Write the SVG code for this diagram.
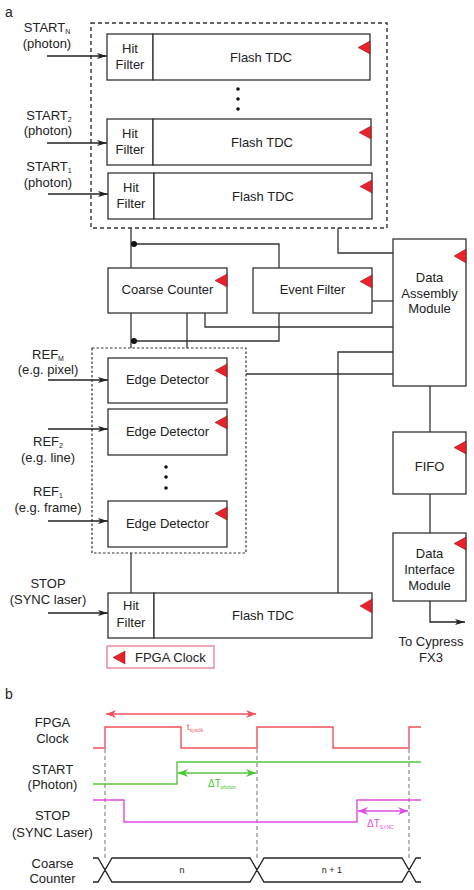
<svg xmlns="http://www.w3.org/2000/svg" width="474" height="890" viewBox="0 0 474 890">
<style>
text{font-family:"Liberation Sans",Arial,sans-serif;font-size:13px;fill:#222}
.m{text-anchor:middle}
.box{fill:#fff;stroke:#333;stroke-width:1.3}
.clk{fill:#e8222c;stroke:#8a1010;stroke-width:0.5}
.ln{fill:none;stroke:#333;stroke-width:1.3}
.ar{fill:none;stroke:#222;stroke-width:1.3;marker-end:url(#ah)}
.sub{font-size:7px}
.dash{stroke:#888;stroke-width:1.2;stroke-dasharray:4 3;fill:none}
.red{stroke:#f0505a;fill:none;stroke-width:1.4}
.grn{stroke:#55c83c;fill:none;stroke-width:1.4}
.mag{stroke:#e04ce0;fill:none;stroke-width:1.4}
.bus{stroke:#222;fill:none;stroke-width:1.3}
</style>
<defs>
<marker id="ah" markerWidth="10" markerHeight="6" refX="10" refY="3" orient="auto" markerUnits="userSpaceOnUse"><path d="M0,0 L10,3 L0,6 L2.5,3 z" fill="#222"/></marker>
<marker id="rh" markerWidth="10" markerHeight="8" refX="10" refY="4" orient="auto-start-reverse" markerUnits="userSpaceOnUse"><path d="M0,0 L10,4 L0,8 L3,4 z" fill="#f0505a"/></marker>
<marker id="gh" markerWidth="10" markerHeight="8" refX="10" refY="4" orient="auto-start-reverse" markerUnits="userSpaceOnUse"><path d="M0,0 L10,4 L0,8 L3,4 z" fill="#44c830"/></marker>
<marker id="mh" markerWidth="10" markerHeight="8" refX="10" refY="4" orient="auto-start-reverse" markerUnits="userSpaceOnUse"><path d="M0,0 L10,4 L0,8 L3,4 z" fill="#e04ce0"/></marker>
</defs>

<text x="5" y="17" style="font-size:14px">a</text>

<rect x="91" y="23" width="296" height="205" fill="none" stroke="#333" stroke-width="1.4" stroke-dasharray="4 3"/>
<rect x="92" y="348" width="154" height="205" fill="none" stroke="#333" stroke-width="1.2" stroke-dasharray="2.5 2"/>

<g id="connectors">
<path class="ln" d="M131,228 V268"/>
<path class="ln" d="M131,244 H279 V268"/>
<path class="ln" d="M131,313 V348"/>
<path class="ln" d="M187,313 V348"/>
<path class="ln" d="M205,313 V327 H393"/>
<path class="ln" d="M279,313 V341 H131"/>
<path class="ln" d="M338,228 V253 H393"/>
<path class="ln" d="M372,301 H393"/>
<path class="ln" d="M338,593 V352 H393"/>
<path class="ln" d="M246,374 H393"/>
<path class="ln" d="M131,553 V593"/>
<path class="ln" d="M430,386 V432"/>
<path class="ln" d="M430,494 V533"/>
<path class="ar" d="M430,601 V622 H465"/>
<path class="ar" d="M47,56 H107"/>
<path class="ar" d="M47,143 H107"/>
<path class="ar" d="M48,194 H108"/>
<path class="ar" d="M48,380 H108"/>
<path class="ar" d="M48,429 H108"/>
<path class="ar" d="M48,521 H108"/>
<path class="ar" d="M48,613 H108"/>
<circle cx="134" cy="244" r="3" fill="#111"/>
<circle cx="134" cy="341" r="3" fill="#111"/>
</g>

<text class="m" x="47" y="32">START<tspan class="sub" dy="1.5">N</tspan></text>
<text class="m" x="47" y="48">(photon)</text>
<text class="m" x="49" y="120">START<tspan class="sub" dy="1.5">2</tspan></text>
<text class="m" x="48" y="135">(photon)</text>
<text class="m" x="49" y="171">START<tspan class="sub" dy="1.5">1</tspan></text>
<text class="m" x="48" y="187">(photon)</text>
<text class="m" x="48" y="359">REF<tspan class="sub" dy="1.5">M</tspan></text>
<text class="m" x="48" y="374">(e.g. pixel)</text>
<text class="m" x="48" y="446">REF<tspan class="sub" dy="1.5">2</tspan></text>
<text class="m" x="48" y="462">(e.g. line)</text>
<text class="m" x="48" y="496">REF<tspan class="sub" dy="1.5">1</tspan></text>
<text class="m" x="48" y="512">(e.g. frame)</text>
<text class="m" x="48" y="588">STOP</text>
<text class="m" x="48" y="604">(SYNC laser)</text>

<g id="tdcN">
<rect class="box" x="107" y="34" width="46" height="46"/>
<rect class="box" x="153" y="34" width="217" height="46"/>
<text class="m" x="130" y="53">Hit</text><text class="m" x="130" y="69">Filter</text>
<text class="m" x="261" y="62">Flash TDC</text>
<polygon class="clk" points="370,41 370,54 358,47.5"/>
</g>
<g id="dots1"><circle cx="238" cy="89" r="1.8" fill="#111"/><circle cx="238" cy="99" r="1.8" fill="#111"/><circle cx="238" cy="109" r="1.8" fill="#111"/></g>
<g id="tdc2">
<rect class="box" x="107" y="119" width="46" height="46"/>
<rect class="box" x="153" y="119" width="218" height="46"/>
<text class="m" x="130" y="138">Hit</text><text class="m" x="130" y="154">Filter</text>
<text class="m" x="262" y="147">Flash TDC</text>
<polygon class="clk" points="371,126 371,139 359,132.5"/>
</g>
<g id="tdc1">
<rect class="box" x="108" y="173" width="46" height="46"/>
<rect class="box" x="154" y="173" width="218" height="46"/>
<text class="m" x="131" y="192">Hit</text><text class="m" x="131" y="208">Filter</text>
<text class="m" x="263" y="201">Flash TDC</text>
<polygon class="clk" points="372,180 372,193 360,186.5"/>
</g>

<g id="coarse">
<rect class="box" x="108" y="268" width="119" height="45"/>
<text class="m" x="167.5" y="294">Coarse Counter</text>
<polygon class="clk" points="227,274 227,287 215,280.5"/>
</g>
<g id="event">
<rect class="box" x="253" y="268" width="119" height="45"/>
<text class="m" x="312.5" y="294">Event Filter</text>
<polygon class="clk" points="372,275 372,288 360,281.5"/>
</g>
<g id="dam">
<rect class="box" x="393" y="239" width="73" height="147"/>
<text class="m" x="429.5" y="282">Data</text>
<text class="m" x="429.5" y="298">Assembly</text>
<text class="m" x="429.5" y="313">Module</text>
<polygon class="clk" points="466,249 466,263 454,256"/>
</g>

<g id="edgeM">
<rect class="box" x="108" y="358" width="119" height="45"/>
<text class="m" x="167.5" y="384">Edge Detector</text>
<polygon class="clk" points="227,364 227,377 215,370.5"/>
</g>
<g id="edge2">
<rect class="box" x="108" y="409" width="119" height="46"/>
<text class="m" x="167.5" y="436">Edge Detector</text>
<polygon class="clk" points="227,416 227,429 215,422.5"/>
</g>
<g id="dots2"><circle cx="166" cy="467" r="1.8" fill="#111"/><circle cx="166" cy="477" r="1.8" fill="#111"/><circle cx="166" cy="488" r="1.8" fill="#111"/></g>
<g id="edge1">
<rect class="box" x="108" y="501" width="119" height="46"/>
<text class="m" x="167.5" y="528">Edge Detector</text>
<polygon class="clk" points="227,507 227,520 215,513.5"/>
</g>

<g id="fifo">
<rect class="box" x="393" y="432" width="73" height="62"/>
<text class="m" x="429.5" y="471">FIFO</text>
<polygon class="clk" points="466,441 466,454 454,447.5"/>
</g>
<g id="dim">
<rect class="box" x="393" y="533" width="73" height="68"/>
<text class="m" x="429.5" y="558">Data</text>
<text class="m" x="429.5" y="574">Interface</text>
<text class="m" x="429.5" y="590">Module</text>
<polygon class="clk" points="466,537 466,550 454,543.5"/>
</g>

<g id="tdcStop">
<rect class="box" x="108" y="593" width="46" height="45"/>
<rect class="box" x="154" y="593" width="218" height="45"/>
<text class="m" x="131" y="610">Hit</text><text class="m" x="131" y="627">Filter</text>
<text class="m" x="263" y="620">Flash TDC</text>
<polygon class="clk" points="372,599 372,613 360,606"/>
</g>

<g id="legend">
<rect x="107" y="646" width="107" height="22" fill="#fff" stroke="#e8708a" stroke-width="1.2"/>
<polygon class="clk" points="125,651 125,664 113,657.5"/>
<text x="135" y="662">FPGA Clock</text>
</g>

<text class="m" x="431" y="646">To Cypress</text>
<text class="m" x="431" y="662">FX3</text>

<text x="5" y="699" style="font-size:14px">b</text>
<text class="m" x="52.5" y="727">FPGA</text>
<text class="m" x="52.5" y="743">Clock</text>
<text class="m" x="52.5" y="774">START</text>
<text class="m" x="52.5" y="789">(Photon)</text>
<text class="m" x="52.5" y="820">STOP</text>
<text class="m" x="52.5" y="837">(SYNC Laser)</text>
<text class="m" x="52.5" y="868">Coarse</text>
<text class="m" x="52.5" y="883">Counter</text>

<g id="timing">
<path class="dash" d="M105,749 V860 M257,749 V860 M409,749 V860"/>
<path class="red" d="M93,748 H105 V727 H181 V748 H257 V727 H333 V748 H409 V727 H421"/>
<path class="red" d="M106,714 H256" marker-start="url(#rh)" marker-end="url(#rh)"/>
<text x="187" y="730" style="font-size:9px;fill:#f0505a">t<tspan dy="2" style="font-size:5px;fill:#f0505a">sysclk</tspan></text>
<path class="grn" d="M93,784 H177 V762 H421"/>
<path class="grn" d="M178,773 H256" marker-start="url(#gh)" marker-end="url(#gh)"/>
<text x="208" y="787" style="font-size:10px;fill:#44c830">ΔT<tspan dy="2" style="font-size:5px;fill:#44c830">photon</tspan></text>
<path class="mag" d="M93,800 H124 V822 H357 V800 H421"/>
<path class="mag" d="M358,811 H408" marker-start="url(#mh)" marker-end="url(#mh)"/>
<text x="367" y="827" style="font-size:10px;fill:#e04ce0">ΔT<tspan dy="2" style="font-size:5px;fill:#e04ce0">SYNC</tspan></text>
<path class="bus" d="M93,858 H98 L112,882 H250 L264,858 H402 L416,882 H421 M93,882 H98 L112,858 H250 L264,882 H402 L416,858 H421"/>
<text class="m" x="182" y="873" style="font-size:9px">n</text>
<text class="m" x="332" y="873" style="font-size:9px">n + 1</text>
</g>
</svg>
